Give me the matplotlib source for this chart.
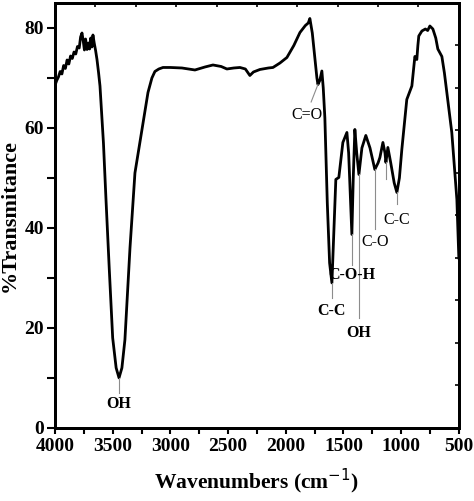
import numpy as np
import matplotlib
matplotlib.use("Agg")
import matplotlib.pyplot as plt

plt.rcParams['font.family'] = ['Liberation Serif', 'DejaVu Serif']

# FTIR spectrum
wn = [4000, 3985, 3970, 3955, 3940, 3925, 3910, 3895, 3880, 3865, 3850, 3835,
      3820, 3805, 3790, 3778, 3766, 3755, 3745, 3735, 3722, 3710, 3700, 3690,
      3680, 3671, 3660, 3648, 3636, 3622, 3610, 3580, 3558, 3530, 3500, 3470,
      3445, 3420, 3394, 3350, 3307, 3264, 3230, 3194, 3160, 3134, 3100, 3064,
      3000, 2900, 2787, 2700, 2631, 2560, 2510, 2450, 2397, 2350, 2311, 2280,
      2224, 2150, 2111, 2050, 1990, 1930, 1877, 1830, 1805, 1791, 1770, 1747,
      1730, 1721, 1705, 1687, 1675, 1661, 1640, 1620, 1600, 1585, 1566, 1540,
      1520, 1505, 1470, 1455, 1440, 1427, 1415, 1401, 1385, 1366, 1340, 1306,
      1270, 1228, 1200, 1184, 1158, 1140, 1132, 1115, 1090, 1060, 1037, 1015,
      994, 951, 907, 881, 864, 855, 847, 820, 790, 770, 751, 725, 700, 682,
      647, 625, 604, 561, 517, 500]
trans = [68.5, 69.5, 70.2, 71.3, 70.8, 72.5, 71.9, 73.6, 72.8, 74.4, 73.9, 75.2,
         74.8, 76.3, 76.0, 78.2, 79.0, 77.4, 75.6, 77.8, 75.7, 77.0, 75.8, 78.0,
         76.2, 78.6, 77.0, 75.5, 73.7, 71.0, 68.4, 57.0, 45.7, 32.0, 18.0, 12.0,
         10.0, 12.0, 17.6, 36.0, 51.0, 57.1, 62.0, 67.1, 70.0, 71.3, 71.8, 72.1,
         72.1, 72.0, 71.6, 72.2, 72.6, 72.3, 71.8, 72.0, 72.1, 71.8, 70.5, 71.2,
         71.7, 72.0, 72.1, 73.0, 74.1, 76.5, 79.1, 80.5, 81.0, 81.9, 79.0, 73.7,
         70.0, 68.7, 69.5, 71.4, 68.0, 62.0, 45.0, 33.0, 29.0, 38.0, 49.7, 50.1,
         54.0, 57.1, 59.1, 55.0, 46.0, 38.7, 50.0, 59.7, 55.0, 50.7, 56.0, 58.5,
         56.0, 51.7, 53.0, 54.1, 57.1, 55.0, 53.1, 56.1, 53.0, 49.0, 47.1, 50.0,
         55.7, 65.7, 68.4, 74.3, 73.7, 76.5, 78.4, 79.4, 79.8, 79.5, 80.4, 79.8,
         78.0, 75.8, 74.3, 71.0, 67.1, 59.1, 45.7, 34.0]

# band labels: (wavenumber, curve value, line end, text y, label, bold)
bands = [(3445, 10.0, 7.0, 4.8, "OH", True),
         (1600, 29.0, 26.0, 23.4, "C-C", True),
         (1427, 38.7, 32.5, 30.5, "C-O-H", True),
         (1366, 50.7, 22.0, 19.0, "OH", True),
         (1228, 51.7, 39.7, 37.2, "C-O", False),
         (1132, 53.1, 49.7, None, "", False),
         (1037, 47.1, 44.7, 41.6, "C-C", False)]

fig = plt.figure(figsize=(4.74, 5.01), dpi=100)
ax = fig.add_axes([0.116, 0.146, 0.852, 0.848])

ax.plot(wn, trans, color="black", lw=2.0)

for w, t, tend, ty, lab, bold in bands:
    ax.plot([w, w], [t, tend], color="#8c8c8c", lw=0.8)
    if lab:
        ax.text(w, ty, lab, ha="center", va="center", fontsize=11.5,
                fontweight="bold" if bold else "normal")

# C=O label with slanted leader
ax.plot([1721, 1780], [68.7, 65.2], color="#8c8c8c", lw=0.8)
ax.text(1815, 62.6, "C=O", ha="center", va="center", fontsize=11.5)

ax.set_xlim(4000, 500)
ax.set_ylim(0, 85)
ax.set_xticks(np.arange(4000, 499, -500))
ax.set_xticks(np.arange(4000, 499, -250), minor=True)
ax.set_yticks([0, 20, 40, 60, 80])
ax.set_yticks(np.arange(0, 85, 10), minor=True)
ax.tick_params(axis="x", which="both", direction="out", length=4, width=1.5,
               labelsize=14, pad=3)
ax.tick_params(axis="y", which="both", direction="out", length=6, width=1.5,
               labelsize=14, pad=2)
for lab in ax.get_xticklabels() + ax.get_yticklabels():
    lab.set_fontweight("bold")

# top and right ticks, ten equal steps, inward
top = ax.twiny()
top.set_xlim(4000, 500)
top.set_xticks(np.linspace(4000, 500, 11))
top.tick_params(axis="x", direction="in", length=3, width=1.2, labeltop=False)
right = ax.twinx()
right.set_ylim(0, 85)
right.set_yticks(np.linspace(0, 85, 11))
right.tick_params(axis="y", direction="in", length=3, width=1.2, labelright=False)

for a in (ax, top, right):
    for s in a.spines.values():
        s.set_linewidth(2.0)

ax.set_xlabel("Wavenumbers (cm$^{-1}$)", fontsize=15.5, fontweight="bold", labelpad=9)
ax.set_ylabel("%Transmitance", fontsize=16, fontweight="bold", labelpad=3)

plt.savefig("out.png", dpi=100)
